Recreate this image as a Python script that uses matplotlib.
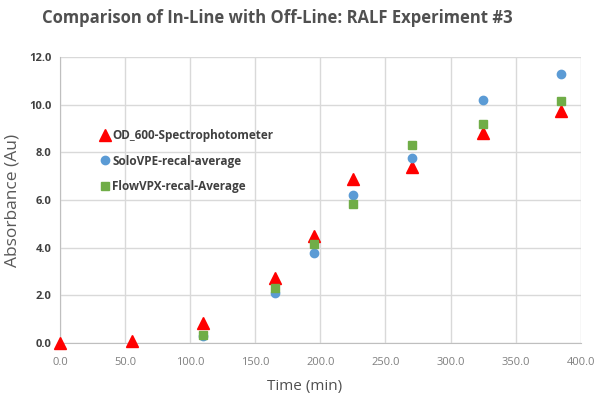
import matplotlib.pyplot as plt

# time points (min)
time_od = [0, 55, 110, 165, 195, 225, 270, 325, 385]
od_600 = [0.0, 0.1, 0.84, 2.73, 4.5, 6.9, 7.4, 8.8, 9.75]

time_vpe = [110, 165, 195, 225, 270, 325, 385]
solo_vpe = [0.3, 2.1, 3.78, 6.19, 7.76, 10.18, 11.3]
flow_vpx = [0.35, 2.3, 4.15, 5.84, 8.32, 9.2, 10.14]

plt.rcParams['font.family'] = ['Open Sans', 'DejaVu Sans']

fig = plt.figure(figsize=(6, 4), dpi=100)
ax = fig.add_axes([0.1, 0.1425, 0.868, 0.715])

ax.plot(time_od, od_600, '^', color='#FF0000', markersize=9, label='OD_600-Spectrophotometer', zorder=3, clip_on=False)
ax.plot(time_vpe, solo_vpe, 'o', color='#5B9BD5', markersize=6, label='SoloVPE-recal-average', zorder=3, clip_on=False)
ax.plot(time_vpe, flow_vpx, 's', color='#70AD47', markersize=6, label='FlowVPX-recal-Average', zorder=3, clip_on=False)

ax.set_xlim(0, 400)
ax.set_ylim(0, 12)
ax.set_xticks(range(0, 401, 50))
ax.set_yticks(range(0, 13, 2))
ax.set_xticklabels(['%.1f' % v for v in range(0, 401, 50)], color='#7f7f7f', fontsize=8)
ax.set_yticklabels(['%.1f' % v for v in range(0, 13, 2)], color='#404040', fontsize=8, fontweight='bold')
ax.tick_params(length=0, pad=6)
ax.tick_params(axis='x', pad=10)

ax.grid(True, color='#d9d9d9', linewidth=1)
ax.set_axisbelow(True)
for s in ['top', 'right']:
    ax.spines[s].set_visible(False)
ax.spines['left'].set_color('#bfbfbf')
ax.spines['bottom'].set_color('#bfbfbf')

ax.set_xlabel('Time (min)', fontsize=11, color='#505050')
ax.set_ylabel('Absorbance (Au)', fontsize=12.5, color='#595959')
ax.xaxis.set_label_coords(0.47, -0.125)
ax.yaxis.set_label_coords(-0.075, 0.5)

fig.text(0.462, 0.955, 'Comparison of In-Line with Off-Line: RALF Experiment #3',
         ha='center', va='center', fontsize=12, fontweight='bold', color='#505050')

leg = ax.legend(loc='upper left', bbox_to_anchor=(0.055, 0.785), frameon=False,
                fontsize=8.5, handletextpad=0.1, handlelength=1.0, labelspacing=1.05)
for t in leg.get_texts():
    t.set_color('#404040')
    t.set_fontweight('bold')

fig.savefig('out.png', dpi=100)
